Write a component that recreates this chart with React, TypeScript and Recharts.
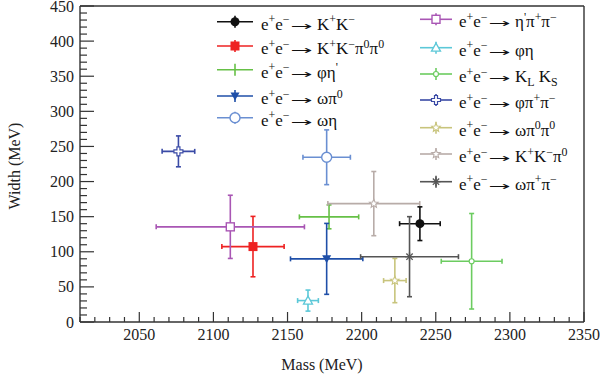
import React from 'react';
import { ScatterChart, Scatter, XAxis, YAxis, ErrorBar, ReferenceLine } from 'recharts';

// ---- data ----
const labels = [
  'e^{+}e^{−}→ K^{+}K^{−}',
  'e^{+}e^{−}→ K^{+}K^{−}π^{0}π^{0}',
  "e^{+}e^{−}→ φη^{'}",
  'e^{+}e^{−}→ ωπ^{0}',
  'e^{+}e^{−}→ ωη',
  "e^{+}e^{−}→ η^{'}π^{+}π^{−}",
  'e^{+}e^{−}→ φη',
  'e^{+}e^{−}→ K_{L} K_{S}',
  'e^{+}e^{−}→ φπ^{+}π^{−}',
  'e^{+}e^{−}→ ωπ^{0}π^{0}',
  'e^{+}e^{−}→ K^{+}K^{−}π^{0}',
  'e^{+}e^{−}→ ωπ^{+}π^{−}',
];
const masses = [2239.3, 2126.7, 2178.0, 2176.4, 2176.4, 2111.4, 2163.8, 2274.2, 2076.4, 2222.4, 2208.2, 2232.3];
const widths = [140.0, 107.4, 149.7, 89.9, 234.6, 135.5, 30.5, 86.5, 243.0, 59.0, 168.6, 93.0];
const massErrors = [13.7, 21.0, 20.0, 24.4, 16.0, 50.0, 7.0, 20.5, 11.0, 7.6, 31.0, 33.0];
const widthErrors = [24.0, 43.0, 17.0, 50.5, 39.0, 45.0, 15.0, 68.0, 22.0, 31.5, 45.7, 57.0];

const xTicks = [2010, 2020, 2030, 2040, 2050, 2060, 2070, 2080, 2090, 2100, 2110, 2120, 2130, 2140, 2150, 2160, 2170, 2180, 2190, 2200, 2210, 2220, 2230, 2240, 2250, 2260, 2270, 2280, 2290, 2300, 2310, 2320, 2330, 2340, 2350];
const xMajor = [2050, 2100, 2150, 2200, 2250, 2300, 2350];
const yTicks = [0, 10, 20, 30, 40, 50, 60, 70, 80, 90, 100, 110, 120, 130, 140, 150, 160, 170, 180, 190, 200, 210, 220, 230, 240, 250, 260, 270, 280, 290, 300, 310, 320, 330, 340, 350, 360, 370, 380, 390, 400, 410, 420, 430, 440, 450];
const yMajor = [0, 50, 100, 150, 200, 250, 300, 350, 400, 450];

// ---- styles ----
const colors = ['#111111', '#ee2222', '#66c046', '#1f4fa8', '#6a8fd2', '#a956b4', '#5cc8d8', '#6ccc60', '#3a4aa6', '#c8c47c', '#b8aca8', '#555555'];
const markers = ['fcircle', 'fsquare', 'none', 'ftridown', 'ocircle', 'osquare', 'otri', 'odot', 'ocross', 'ostar', 'ostar', 'asterisk'];
const FONT = "'Liberation Serif', 'Times New Roman', Tinos";
const AXIS = '#333333';
const CSS = `.rc text, .rc tspan { font-family: 'Liberation Serif', 'Times New Roman', Tinos !important; }
.rc text.arr { font-family: 'DejaVu Sans' !important; }`;

function starPoints(cx: number, cy: number, r: number) {
  const pts: string[] = [];
  for (let i = 0; i < 10; i++) {
    const a = -Math.PI / 2 + (i * Math.PI) / 5;
    const rr = i % 2 === 0 ? r : r * 0.45;
    pts.push(`${cx + rr * Math.cos(a)},${cy + rr * Math.sin(a)}`);
  }
  return pts.join(' ');
}

function Marker({ kind, color, cx, cy }: { kind: string; color: string; cx: number; cy: number }) {
  if (cx == null || cy == null) return <g />;
  switch (kind) {
    case 'fcircle':
      return <circle cx={cx} cy={cy} r={4.5} fill={color} />;
    case 'fsquare':
      return <rect x={cx - 4.5} y={cy - 4.5} width={9} height={9} fill={color} />;
    case 'ftridown':
      return <polygon points={`${cx - 4.5},${cy - 3.5} ${cx + 4.5},${cy - 3.5} ${cx},${cy + 4.5}`} fill={color} />;
    case 'ocircle':
      return <circle cx={cx} cy={cy} r={5} fill="#fff" stroke={color} strokeWidth={1.4} />;
    case 'osquare':
      return <rect x={cx - 4} y={cy - 4} width={8} height={8} fill="#fff" stroke={color} strokeWidth={1.4} />;
    case 'otri':
      return <polygon points={`${cx - 4.5},${cy + 3.5} ${cx + 4.5},${cy + 3.5} ${cx},${cy - 4.5}`} fill="#fff" stroke={color} strokeWidth={1.3} />;
    case 'odot':
      return <circle cx={cx} cy={cy} r={2.5} fill="#fff" stroke={color} strokeWidth={1.2} />;
    case 'ocross': {
      const a = 1.5, b = 4.5;
      const p = [
        [-a, -b], [a, -b], [a, -a], [b, -a], [b, a], [a, a], [a, b], [-a, b], [-a, a], [-b, a], [-b, -a], [-a, -a],
      ].map(([dx, dy]) => `${cx + dx},${cy + dy}`).join(' ');
      return <polygon points={p} fill="#fff" stroke={color} strokeWidth={1.2} />;
    }
    case 'ostar':
      return <polygon points={starPoints(cx, cy, 4.5)} fill="#fff" stroke={color} strokeWidth={1.1} />;
    case 'asterisk': {
      const r = 4.5, d = r * 0.707;
      return (
        <g stroke={color} strokeWidth={1.3}>
          <line x1={cx - r} y1={cy} x2={cx + r} y2={cy} />
          <line x1={cx} y1={cy - r} x2={cx} y2={cy + r} />
          <line x1={cx - d} y1={cy - d} x2={cx + d} y2={cy + d} />
          <line x1={cx - d} y1={cy + d} x2={cx + d} y2={cy - d} />
        </g>
      );
    }
    default:
      return <g />;
  }
}

function parseLabel(s: string) {
  const out: { t: string; k: string }[] = [];
  const re = /\^\{([^}]*)\}|_\{([^}]*)\}|([^^_]+)/g;
  let m: RegExpExecArray | null;
  while ((m = re.exec(s))) {
    if (m[1] !== undefined) out.push({ t: m[1], k: 'sup' });
    else if (m[2] !== undefined) out.push({ t: m[2], k: 'sub' });
    else out.push({ t: m[3], k: 'n' });
  }
  return out;
}

function RichText({ x, y, s, size }: { x: number; y: number; s: string; size: number }) {
  const parts = parseLabel(s);
  let cur = 0;
  return (
    <text x={x} y={y} fontSize={size} style={{ whiteSpace: 'pre', fontFamily: FONT }} fill="#111">
      {parts.map((p, i) => {
        const target = p.k === 'sup' ? -6.5 : p.k === 'sub' ? 4 : 0;
        const dy = target - cur;
        cur = target;
        return (
          <tspan key={i} dy={dy} fontSize={p.k === 'n' ? size : size * 0.7}>
            {p.t}
          </tspan>
        );
      })}
    </text>
  );
}

const XTick = (props: any) => {
  const { x, y, payload } = props;
  const v = payload.value;
  const major = xMajor.includes(v);
  return (
    <g>
      <line x1={x} y1={y} x2={x} y2={y - (major ? 10 : 5)} stroke={AXIS} strokeWidth={1.2} />
      {major && (
        <text x={x} y={y + 18} textAnchor="middle" fontSize={16} style={{ fontFamily: FONT }} fill="#222">
          {v}
        </text>
      )}
    </g>
  );
};

const YTick = (props: any) => {
  const { x, y, payload } = props;
  const v = payload.value;
  const major = yMajor.includes(v);
  return (
    <g>
      <line x1={x} y1={y} x2={x + (major ? 14 : 7)} y2={y} stroke={AXIS} strokeWidth={1.2} />
      {major && (
        <text x={x - 6} y={y + 5.5} textAnchor="end" fontSize={16} style={{ fontFamily: FONT }} fill="#222">
          {v}
        </text>
      )}
    </g>
  );
};

const col1 = { x1: 217, x2: 253, tx: 261, rows: [21.7, 46, 69.7, 96, 117.7], idx: [0, 1, 2, 3, 4] };
const col2 = { x1: 420, x2: 452, tx: 459, rows: [19.3, 47.7, 74, 100, 127.7, 154, 181.7], idx: [5, 6, 7, 8, 9, 10, 11] };

function LegendCol({ c }: { c: typeof col1 }) {
  return (
    <g>
      {c.idx.map((si, k) => {
        const y = c.rows[k];
        const mx = (c.x1 + c.x2) / 2;
        const [pre, post] = labels[si].split('→ ');
        return (
          <g key={si}>
            <line x1={c.x1} y1={y} x2={c.x2} y2={y} stroke={colors[si]} strokeWidth={1.6} />
            <line x1={mx} y1={y - 6} x2={mx} y2={y + 6} stroke={colors[si]} strokeWidth={1.6} />
            <Marker kind={markers[si]} color={colors[si]} cx={mx} cy={y} />
            <RichText x={c.tx} y={y + 8} s={pre} size={17} />
            <text
              className="arr"
              x={c.tx + 29}
              y={y + 7.8}
              fontSize={12}
              textLength={22}
              lengthAdjust="spacingAndGlyphs"
              fill="#111"
              style={{ fontFamily: "'DejaVu Sans'" }}
            >
              →
            </text>
            <RichText x={c.tx + 56} y={y + 8} s={post} size={17} />
          </g>
        );
      })}
    </g>
  );
}

export default function App() {
  const series = labels.map((name, i) => ({
    name,
    data: [{ x: masses[i], y: widths[i], ex: massErrors[i], ey: widthErrors[i] }],
  }));
  return (
    <div className="rc" style={{ position: 'absolute', left: 0, top: 0, width: 600, height: 379, background: '#fff', fontFamily: FONT }}>
      <style>{CSS}</style>
      <ScatterChart width={600} height={379} margin={{ top: 6, right: 16, bottom: 0, left: 0 }} style={{ fontFamily: FONT }}>
        <XAxis
          type="number"
          dataKey="x"
          domain={[2010, 2350]}
          ticks={xTicks}
          interval={0}
          height={57}
          tickSize={0}
          tickMargin={0}
          tickLine={false}
          allowDataOverflow
          axisLine={{ stroke: AXIS, strokeWidth: 1.4 }}
          tick={(p: any) => <XTick {...p} />}
        />
        <YAxis
          type="number"
          dataKey="y"
          domain={[0, 450]}
          ticks={yTicks}
          interval={0}
          width={80}
          tickSize={0}
          tickMargin={0}
          tickLine={false}
          allowDataOverflow
          axisLine={{ stroke: AXIS, strokeWidth: 1.4 }}
          tick={(p: any) => <YTick {...p} />}
        />
        <ReferenceLine y={450} stroke={AXIS} strokeWidth={1.4} />
        <ReferenceLine x={2350} stroke={AXIS} strokeWidth={1.4} />
        {series.map((s, i) => (
          <Scatter
            key={s.name}
            name={s.name}
            data={s.data}
            isAnimationActive={false}
            shape={(p: any) => <Marker kind={markers[i]} color={colors[i]} cx={p.cx} cy={p.cy} />}
          >
            <ErrorBar dataKey="ex" direction="x" width={2.5} stroke={colors[i]} strokeWidth={1.6} isAnimationActive={false} />
            <ErrorBar dataKey="ey" direction="y" width={2.5} stroke={colors[i]} strokeWidth={1.6} isAnimationActive={false} />
          </Scatter>
        ))}
      </ScatterChart>
      <svg width={600} height={379} style={{ position: 'absolute', left: 0, top: 0, pointerEvents: 'none', fontFamily: FONT }}>
        <LegendCol c={col1} />
        <LegendCol c={col2} />
        <text x={322} y={370} textAnchor="middle" fontSize={16} style={{ fontFamily: FONT }} fill="#222">
          Mass (MeV)
        </text>
        <text x={20} y={166} transform="rotate(-90 20 166)" textAnchor="middle" fontSize={16} style={{ fontFamily: FONT }} fill="#222">
          Width (MeV)
        </text>
      </svg>
    </div>
  );
}
